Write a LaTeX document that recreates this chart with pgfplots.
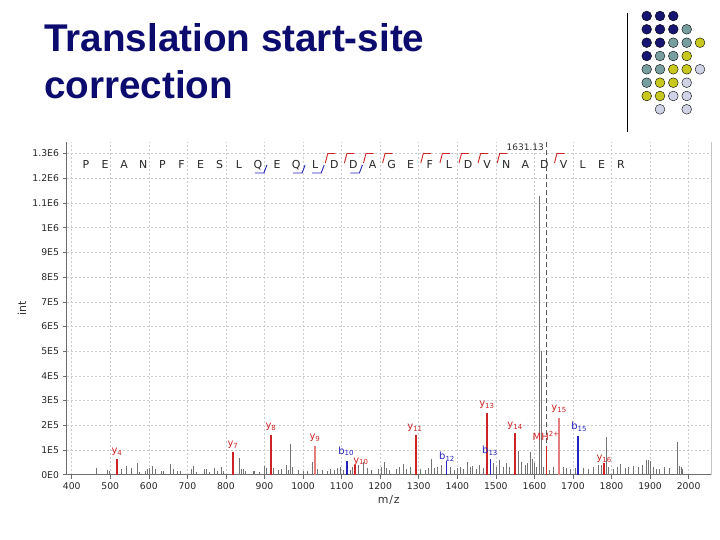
\documentclass[border=0pt]{standalone}
\usepackage{fontspec}
\setmainfont{DejaVu Sans}
\newfontfamily\titlefont{Liberation Sans}
\usepackage{pgfplots}
\pgfplotsset{compat=1.18}
\definecolor{titlenavy}{RGB}{12,12,110}
\definecolor{dnavy}{RGB}{22,22,112}
\definecolor{dteal}{RGB}{120,158,160}
\definecolor{dyellow}{RGB}{200,200,30}
\definecolor{dlav}{RGB}{208,210,230}
\definecolor{yred}{RGB}{205,35,35}
\definecolor{ypink}{RGB}{228,125,125}
\definecolor{bblue}{RGB}{35,35,190}
\definecolor{peakgray}{RGB}{115,115,115}
\begin{document}
\begin{tikzpicture}
\useasboundingbox (0,0) rectangle (720bp,-540bp);
% ---------- slide decoration (pixel coordinates) ----------
\begin{axis}[at={(0,0)}, anchor=north west, width=720bp, height=540bp, scale only axis,
  xmin=0, xmax=720, ymin=-540, ymax=0, hide axis, clip=false]
\addplot[black, line width=1bp, mark=none] coordinates {(627.3,-12.7) (627.3,-132)};
\addplot[only marks, mark=*, mark size=4.9bp, mark options={draw=none, fill=dnavy}] coordinates {
 (646.7,-16) (660,-16) (673.3,-16) (646.7,-29.3) (660,-29.3) (673.3,-29.3) (646.7,-42.7) (660,-42.7) (646.7,-56)};
\addplot[only marks, mark=*, mark size=4.9bp, mark options={draw=none, fill=dteal}] coordinates {
 (686.7,-29.3) (673.3,-42.7) (686.7,-42.7) (660,-56) (673.3,-56) (646.7,-69.3) (660,-69.3) (646.7,-82.7)};
\addplot[only marks, mark=*, mark size=4.9bp, mark options={draw=none, fill=dyellow}] coordinates {
 (700,-42.7) (686.7,-56) (673.3,-69.3) (686.7,-69.3) (660,-82.7) (673.3,-82.7) (646.7,-96) (660,-96)};
\addplot[only marks, mark=*, mark size=4.9bp, mark options={draw=none, fill=dlav}] coordinates {
 (700,-69.3) (686.7,-82.7) (673.3,-96) (686.7,-96) (660,-109.3) (686.7,-109.3)};
\node[anchor=base west, inner sep=0, text=titlenavy, font=\titlefont\bfseries\fontsize{38.8}{46}\selectfont] at (axis cs:44,-51.7) {Translation start-site};
\node[anchor=base west, inner sep=0, text=titlenavy, font=\titlefont\bfseries\fontsize{38.8}{46}\selectfont] at (axis cs:44,-98.3) {correction};
\end{axis}
% ---------- spectrum ----------
\begin{axis}[at={(66.5bp,-474.7bp)}, anchor=south west, width=644.5bp, height=332.7bp, scale only axis,
  xmin=386.5, xmax=2058, ymin=0, ymax=1347000,
  axis x line*=bottom, axis y line*=left,
  axis line style={-, draw=gray!85!black, line width=0.8bp},
  xtick={400,500,...,2000},
  ytick={0,100000,200000,300000,400000,500000,600000,700000,800000,900000,1000000,1100000,1200000,1300000},
  yticklabels={0E0,1E5,2E5,3E5,4E5,5E5,6E5,7E5,8E5,9E5,1E6,1.1E6,1.2E6,1.3E6},
  scaled y ticks=false, scaled x ticks=false,
  /pgf/number format/1000 sep={}, /pgf/number format/assume math mode=true,
  tick align=outside, major tick length=4bp, tick style={gray!85!black, line width=0.6bp},
  grid=major, major grid style={gray!40, dash pattern=on 2bp off 2bp, line width=0.5bp},
  ticklabel style={font=\fontsize{9.3}{10}\selectfont, text=black!85},
  xlabel={m\kern0.8bp/\kern0.8bp z}, ylabel={int},
  label style={font=\fontsize{11}{12}\selectfont, text=black!80},
  xlabel style={at={(axis description cs:0.5,0)}, anchor=center, yshift=-25.3bp},
  ylabel style={at={(axis description cs:-0.069,0.5)}, anchor=center},
  clip=false]
\draw[gray!45, line width=0.6bp] (rel axis cs:1,0) -- (rel axis cs:1,1);
\addplot[ycomb, draw=peakgray, line width=0.8bp, mark=none] coordinates {
(463,27000) (492,19000) (497,15000) (530,23000) (543,36000) (555,26000) (570,49000) (576,12000)
(590,16000) (596,22000) (601,28000) (608,35000) (616,23000) (633,16000) (638,15000) (655,43000)
(664,23000) (673,15000) (681,16000) (711,22000) (715,36000) (723,10000) (743,22000) (750,22000)
(758,12000) (770,28000) (778,15000) (787,32000) (794,16000) (834,66000) (841,22000) (845,22000)
(851,16000) (871,15000) (875,17000) (886,12000) (899,36000) (904,28000) (923,26000) (936,19000)
(945,24000) (956,39000) (961,19000) (968,123000) (973,32000) (988,19000) (1001,15000) (1011,13000)
(1025,53000) (1037,22000) (1051,19000) (1062,15000) (1072,22000) (1080,19000) (1089,26000) (1096,32000)
(1104,19000) (1122,19000) (1129,32000) (1144,39000) (1156,51000) (1166,26000) (1176,19000) (1195,24000)
(1204,32000) (1210,53000) (1216,26000) (1225,19000) (1243,24000) (1250,32000) (1260,42000) (1267,23000)
(1278,32000) (1304,22000) (1316,19000) (1325,28000) (1333,62000) (1340,26000) (1348,32000) (1360,39000)
(1381,32000) (1392,19000) (1400,26000) (1409,30000) (1417,22000) (1425,53000) (1434,30000) (1440,35000)
(1449,24000) (1457,39000) (1467,26000) (1494,46000) (1502,30000) (1509,59000) (1519,32000) (1528,46000)
(1536,30000) (1558,97000) (1567,53000) (1576,39000) (1582,49000) (1589,93000) (1596,62000) (1601,46000)
(1605,32000) (1624,30000) (1640,19000) (1650,30000) (1674,30000) (1682,26000) (1693,22000) (1706,26000)
(1727,26000) (1740,22000) (1753,30000) (1766,39000) (1775,39000) (1787,154000) (1793,30000) (1804,22000)
(1814,30000) (1824,43000) (1835,26000) (1844,30000) (1857,35000) (1870,30000) (1879,39000) (1890,59000)
(1895,59000) (1900,57000) (1908,30000) (1917,24000) (1925,22000) (1938,30000) (1951,26000) (1971,134000)
(1976,35000) (1980,30000) (1985,22000)};
\addplot[ycomb, draw=peakgray, line width=1.7bp, mark=none] coordinates {(1613,1130000) (1618,500000)};
\addplot[draw=gray!70!black, dash pattern=on 5bp off 3bp, line width=0.7bp, mark=none] coordinates {(1631.13,0) (1631.13,1347000)};
\addplot[ycomb, draw=yred, line width=1.5bp, mark=none] coordinates {
(517.5,64000) (818,92000) (917,160000) (1135,40000) (1293,160000) (1477,250000) (1550,169000) (1632,116000) (1780,47000)};
\addplot[ycomb, draw=ypink, line width=1.2bp, mark=none] coordinates {(1031,116000) (1664,230000)};
\addplot[ycomb, draw=bblue, line width=1.3bp, mark=none] coordinates {(1114,55000) (1372,55000) (1487,64000) (1713,157000)};
\begin{scope}[every node/.style={font=\fontsize{10}{11}\selectfont, inner sep=0}]
\node[text=yred] at (axis cs:517.5,92000) {y\textsubscript{4}};
\node[text=yred] at (axis cs:818.2,120000) {y\textsubscript{7}};
\node[text=yred] at (axis cs:916.8,193000) {y\textsubscript{8}};
\node[text=yred] at (axis cs:1031,149000) {y\textsubscript{9}};
\node[text=bblue] at (axis cs:1112,95000) {b\textsubscript{10}};
\node[text=yred] at (axis cs:1150,54000) {y\textsubscript{10}};
\node[text=yred] at (axis cs:1290.4,189000) {y\textsubscript{11}};
\node[text=bblue] at (axis cs:1373.5,72000) {b\textsubscript{12}};
\node[text=yred] at (axis cs:1477,282000) {y\textsubscript{13}};
\node[text=bblue] at (axis cs:1485,96000) {b\textsubscript{13}};
\node[text=yred] at (axis cs:1550,197000) {y\textsubscript{14}};
\node[text=yred] at (axis cs:1630.4,157000) {MH\textsuperscript{2+}};
\node[text=yred] at (axis cs:1664,266000) {y\textsubscript{15}};
\node[text=bblue] at (axis cs:1716,193000) {b\textsubscript{15}};
\node[text=yred] at (axis cs:1781,64000) {y\textsubscript{16}};
\end{scope}
\end{axis}
% ---------- sequence annotation (pixel coordinates) ----------
\node[anchor=east, inner sep=0, font=\fontsize{9}{10}\selectfont, text=black!80] at (544bp,-147bp) {1631.13};
\foreach \L [count=\i from 0] in {P,E,A,N,P,F,E,S,L,Q,E,Q,L,D,D,A,G,E,F,L,D,V,N,A,D,V,L,E,R} {
  \pgfmathsetmacro\xx{86+19.1*\i}
  \node[anchor=base, inner sep=0, font=\fontsize{11}{12}\selectfont, text=black!85] at (\xx bp,-168.3bp) {\L};
}
\foreach \i in {9,11,12,14} {
  \pgfmathsetmacro\xx{86+19.1*\i}
  \draw[bblue, line width=0.9bp] (\xx bp-3bp,-173bp) -- (\xx bp+6bp,-173bp) -- (\xx bp+9bp,-165bp);
}
\foreach \i in {13,14,15,16,18,19,20,21,22,25} {
  \pgfmathsetmacro\xx{86+19.1*\i}
  \draw[yred, line width=0.9bp] (\xx bp-9bp,-163bp) -- (\xx bp-6.5bp,-153.5bp) -- (\xx bp+1bp,-153.5bp);
}
\end{tikzpicture}
\end{document}
